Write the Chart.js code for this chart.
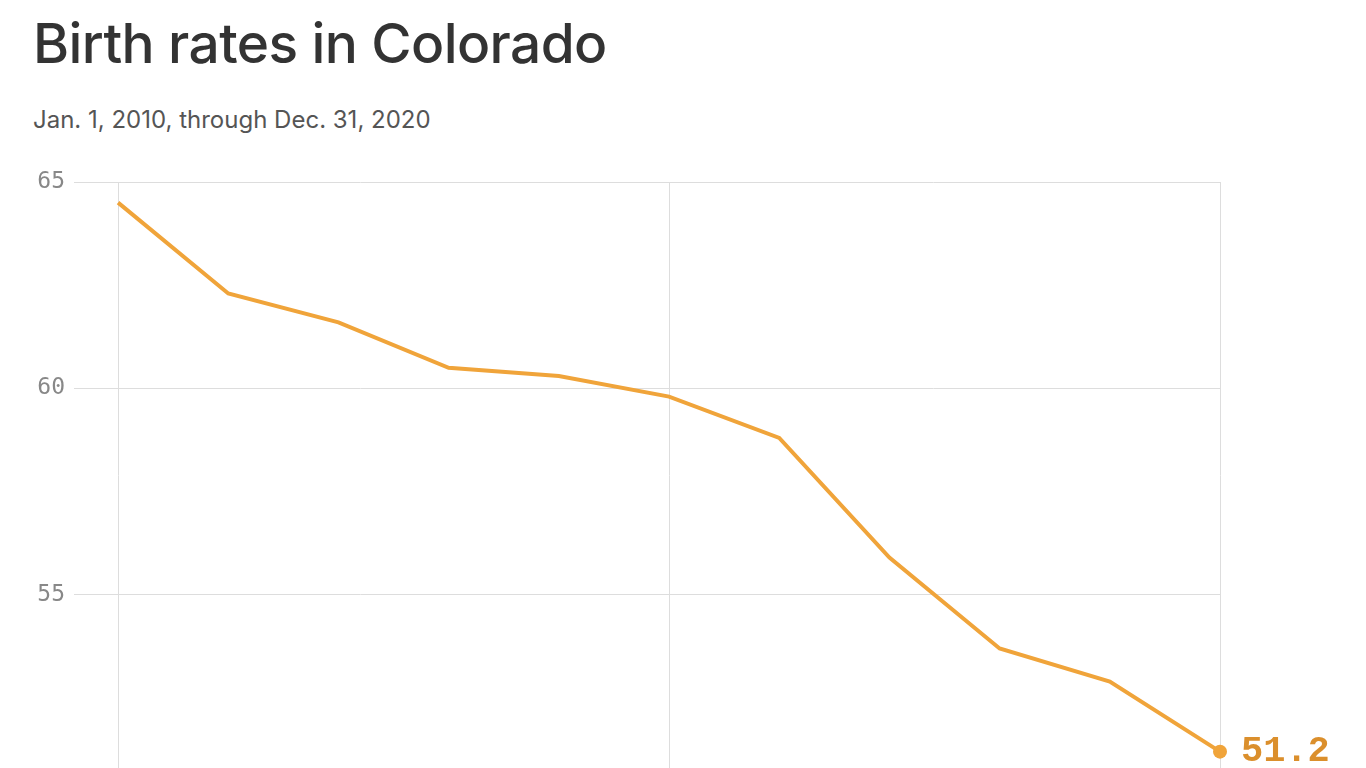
<html>
  <head>
    <script src="https://cdn.jsdelivr.net/npm/chart.js@4/dist/chart.umd.min.js"></script>
  </head>
  <body>
    <h1 id="title">Birth rates in Colorado</h1>
    <div id="subtitle">Jan. 1, 2010, through Dec. 31, 2020</div>
    <div id="wrap"><canvas id="graph"></canvas></div>
    <style>
      body{
        margin: 0;
        background-color: #fff;
        width: 1366px;
        height: 768px;
        overflow: hidden;
        position: relative;
        font-family: Inter, "Noto Sans", sans-serif;
      }
      #title{
        position: absolute;
        left: 33px;
        top: 10px;
        margin: 0;
        font-size: 55px;
        font-weight: 500;
        letter-spacing: -0.6px;
        color: #333;
      }
      #subtitle{
        position: absolute;
        left: 33px;
        top: 105px;
        font-size: 24px;
        letter-spacing: 0;
        color: #555;
      }
      #wrap{
        position: absolute;
        left: 0;
        top: 0;
        width: 1366px;
        height: 776px;
      }
    </style>
    <script>
      var years = [2010, 2011, 2012, 2013, 2014, 2015, 2016, 2017, 2018, 2019, 2020];
      var birthRates = [64.5, 62.3, 61.6, 60.5, 60.3, 59.8, 58.8, 55.9, 53.7, 52.9, 51.2];
      var yTicks = [55, 60, 65];
      var xTicks = [2010, 2015, 2020];

      var lineColor = '#f0a43a';
      var lastIndex = birthRates.length - 1;

      // label at the end of the line
      var endLabel = {
        id: 'endLabel',
        afterDatasetsDraw: function(chart) {
          var meta = chart.getDatasetMeta(0);
          var pt = meta.data[lastIndex];
          var ctx = chart.ctx;
          ctx.save();
          ctx.font = 'bold 37px "Liberation Mono", monospace';
          ctx.fillStyle = '#db8f2c';
          ctx.textAlign = 'left';
          ctx.textBaseline = 'middle';
          ctx.fillText(birthRates[lastIndex].toFixed(1), pt.x + 21, pt.y);
          ctx.restore();
        }
      };

      var chartConfig = {
        type: 'line',
        data: {
          datasets: [{
            data: years.map(function(y, i) { return {x: y, y: birthRates[i]}; }),
            borderColor: lineColor,
            backgroundColor: lineColor,
            borderWidth: 4,
            tension: 0,
            clip: false,
            pointRadius: function(c) { return c.dataIndex === lastIndex ? 7 : 0; },
            pointHoverRadius: 0,
            pointBorderWidth: 0
          }]
        },
        options: {
          responsive: true,
          maintainAspectRatio: false,
          animation: false,
          events: [],
          layout: { padding: { top: 182, right: 146, left: 0, bottom: 0 } },
          plugins: {
            legend: { display: false },
            tooltip: { enabled: false }
          },
          scales: {
            x: {
              type: 'linear',
              min: 2009.6,
              max: 2020,
              afterBuildTicks: function(s) { s.ticks = xTicks.map(function(v) { return {value: v}; }); },
              afterFit: function(s) { s.height = 0; s.paddingLeft = 0; s.paddingRight = 0; },
              grid: { color: '#dddddd', lineWidth: 1, drawTicks: false },
              border: { display: false },
              ticks: { display: false }
            },
            y: {
              min: 50.78,
              max: 65,
              afterBuildTicks: function(s) { s.ticks = yTicks.map(function(v) { return {value: v}; }); },
              afterFit: function(s) { s.width = 74; s.paddingTop = 0; s.paddingBottom = 0; },
              grid: { color: '#dddddd', lineWidth: 1, drawTicks: false },
              border: { display: false },
              ticks: {
                padding: 9,
                color: '#888',
                font: { family: '"DejaVu Sans Mono", monospace', size: 23 }
              }
            }
          }
        },
        plugins: [endLabel]
      };
      var graph = new Chart(document.getElementById("graph"), chartConfig);
    </script>
  </body>
</html>
